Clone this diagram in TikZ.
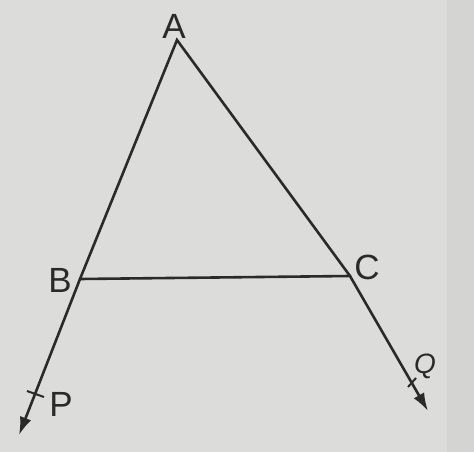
\documentclass[tikz,border=0pt]{standalone}
\usepackage{fontspec}
\setmainfont{Liberation Sans}
\usetikzlibrary{arrows.meta}
\definecolor{paper}{HTML}{DCDCDA}
\definecolor{paperedge}{HTML}{D4D4D2}
\definecolor{ink}{HTML}{2A2A2A}
\tikzset{
  edge/.style={draw=ink, line width=2.6pt, line cap=round},
  ray/.style={edge, -{Latex[length=18pt,width=12pt]}},
  tick/.style={draw=ink, line width=2pt},
  lbl/.style={text=ink, font=\fontsize{35}{35}\selectfont, inner sep=0pt},
}
\begin{document}
\begin{tikzpicture}[x=1pt,y=-1pt]
\useasboundingbox (0,0) rectangle (474,452);
\fill[paper] (0,0) rectangle (474,452);
\fill[paperedge] (447,0) rectangle (474,452);
\coordinate (A) at (177,40);
\coordinate (B) at (80,279);
\coordinate (C) at (350,276);
\coordinate (Pend) at (19,435);
\coordinate (Qend) at (428,411);
\coordinate (p1) at (27,391);
\coordinate (p2) at (44,397);
\coordinate (q1) at (408,387);
\coordinate (q2) at (416,378);
\draw[edge] (B) -- (A) -- (C);
\draw[edge] (B) -- (C);
\draw[ray] (B) -- (Pend);
\draw[ray] (C) -- (Qend);
\draw[tick] (p1) -- (p2);
\draw[tick] (q1) -- (q2);
\node[lbl] (la) at (174,26) {A};
\node[lbl] (lb) at (60,280) {B};
\node[lbl] (lc) at (367,267) {C};
\node[lbl] (lp) at (61,404) {P};
\node[lbl, font=\fontsize{28}{28}\itshape] (lq) at (425,366) {Q};
\end{tikzpicture}
\end{document}
